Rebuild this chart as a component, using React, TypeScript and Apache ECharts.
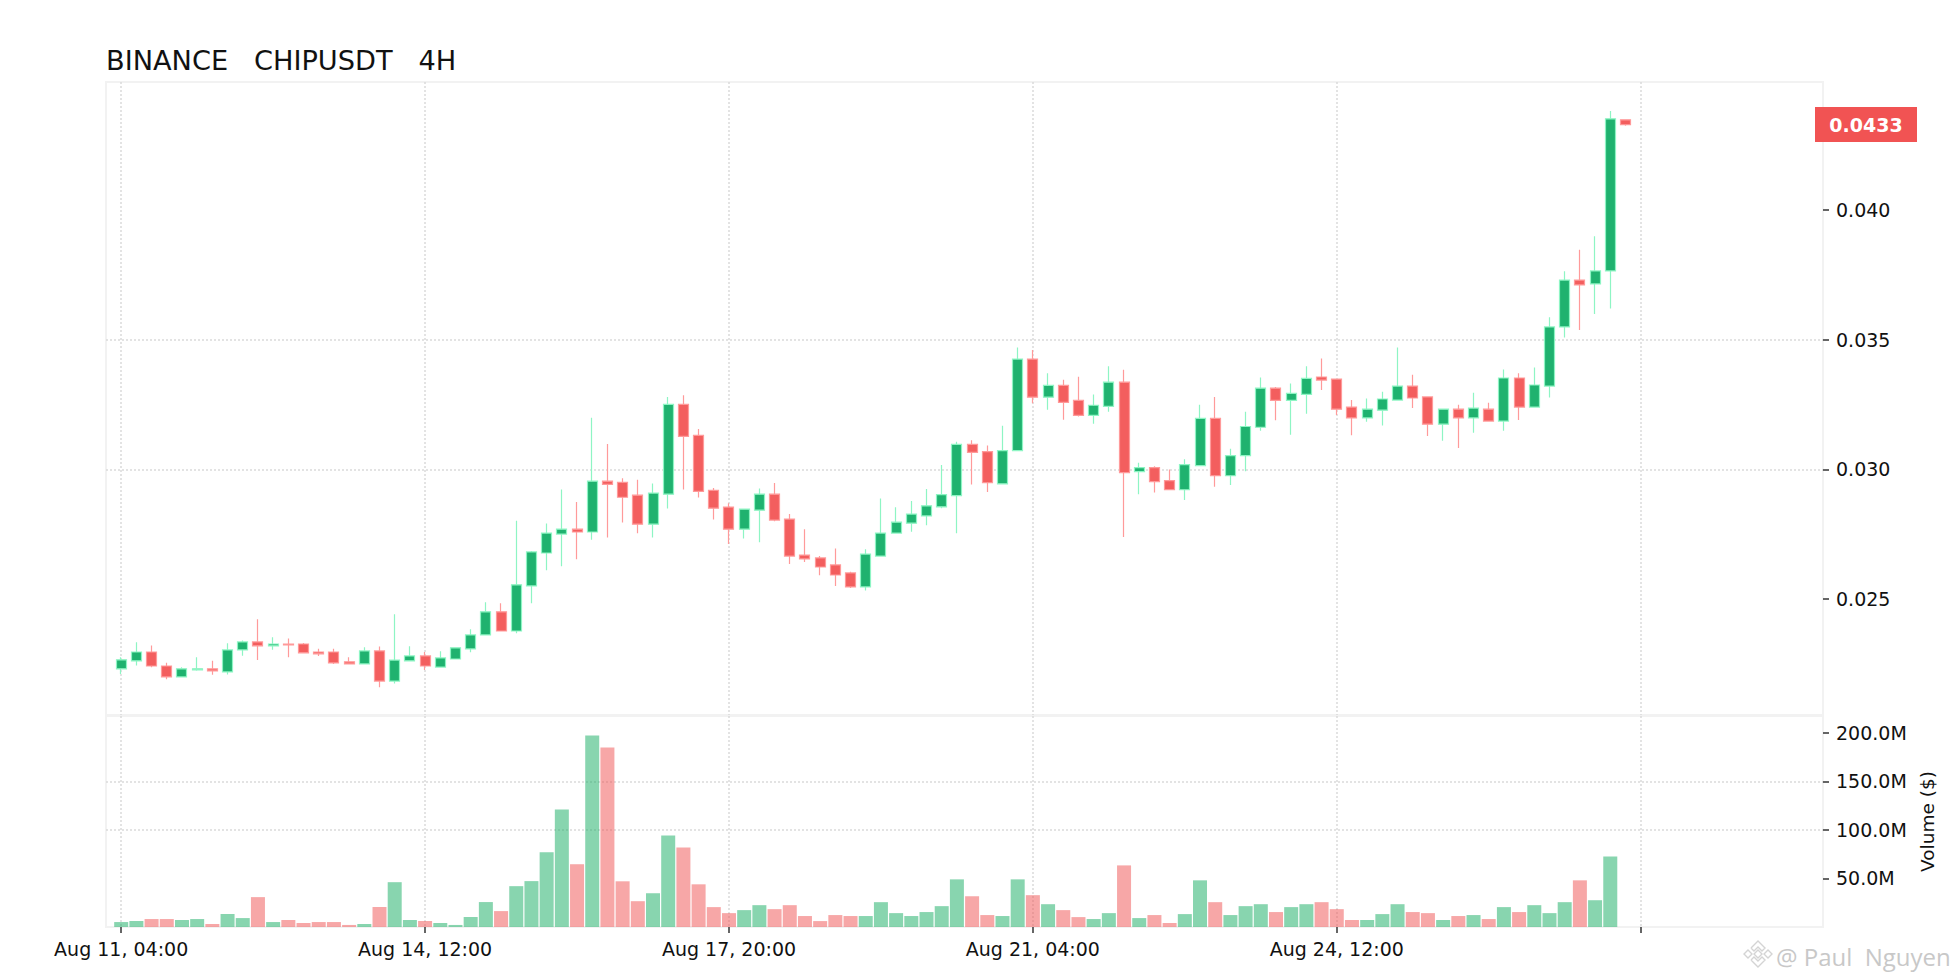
import React, { useEffect, useRef } from "react";
import * as echarts from "echarts";

const titleText = "BINANCE   CHIPUSDT   4H";
const lastPriceLabel = "0.0433";
const volumeAxisName = "Volume ($)";
const watermarkText = "@ Paul  Nguyen";
const priceTicks = [0.025, 0.03, 0.035, 0.04];
const volumeTicks = [50, 100, 150, 200];

const opens = [
  0.0223,0.02261,0.02295,0.02241,0.02199,0.02226,0.0223,0.02218,0.02303,0.02334,
  0.02319,0.02326,0.02326,0.02295,0.02295,0.02257,0.02249,0.02299,0.02183,0.02261,
  0.0228,0.02237,0.02268,0.02307,0.02361,0.0245,0.02376,0.0255,0.02677,0.0275,
  0.02769,0.02758,0.02954,0.0295,0.029,0.02788,0.02904,0.0325,0.03131,0.02919,
  0.02854,0.02769,0.02842,0.02904,0.02808,0.02669,0.02658,0.02631,0.026,0.02546,
  0.02665,0.02754,0.02792,0.0282,0.02855,0.02898,0.03096,0.03068,0.02944,0.03072,
  0.03425,0.03278,0.03324,0.03266,0.03208,0.03243,0.03336,0.02991,0.03006,0.02956,
  0.02921,0.03014,0.03196,0.02975,0.03053,0.03162,0.03313,0.03266,0.03289,0.03356,
  0.03348,0.0324,0.03198,0.03228,0.03267,0.03321,0.03279,0.03174,0.03232,0.03198,
  0.03232,0.03186,0.03352,0.0324,0.03321,0.03549,0.0373,0.03715,0.03765,0.04348,
];
const closes = [
  0.02265,0.02295,0.02241,0.02199,0.0223,0.0223,0.02222,0.02303,0.02334,0.02319,
  0.02326,0.02322,0.02292,0.02288,0.02253,0.02249,0.02299,0.02183,0.02264,0.0228,
  0.02241,0.02272,0.02311,0.02361,0.0245,0.02376,0.02554,0.02681,0.02754,0.02769,
  0.02758,0.02954,0.02942,0.02892,0.02788,0.02908,0.0325,0.03127,0.02915,0.0285,
  0.02769,0.02846,0.02904,0.02804,0.02665,0.02654,0.02623,0.02592,0.02546,0.02673,
  0.02754,0.02796,0.02827,0.02859,0.02902,0.03096,0.03065,0.02948,0.03072,0.03425,
  0.03278,0.03324,0.03258,0.03208,0.03247,0.03336,0.02987,0.03006,0.02952,0.02921,
  0.03018,0.03196,0.02975,0.03053,0.03165,0.03313,0.03266,0.03293,0.03351,0.03344,
  0.03232,0.03198,0.03232,0.03271,0.03321,0.03275,0.03174,0.03232,0.03198,0.03236,
  0.03186,0.03352,0.0324,0.03325,0.03549,0.0373,0.03711,0.03765,0.04352,0.04329,
];
const lows = [
  0.0221,0.02243,0.02236,0.0219,0.02198,0.02223,0.02207,0.02208,0.02281,0.02264,
  0.02304,0.02275,0.02292,0.0228,0.02249,0.02249,0.02249,0.02159,0.02174,0.02261,
  0.02226,0.02237,0.02268,0.02294,0.02361,0.02374,0.02367,0.02483,0.0261,0.02626,
  0.02653,0.02728,0.02737,0.02795,0.02753,0.02737,0.02849,0.02922,0.02891,0.02806,
  0.02712,0.02733,0.02718,0.02799,0.02635,0.02642,0.02591,0.0255,0.02542,0.02532,
  0.02665,0.02754,0.02759,0.02784,0.0285,0.02753,0.02941,0.02912,0.02944,0.03072,
  0.03255,0.0323,0.03191,0.03204,0.03176,0.03222,0.02739,0.02904,0.0291,0.02921,
  0.02881,0.03014,0.02933,0.02939,0.02992,0.03149,0.03189,0.03133,0.03214,0.03306,
  0.03209,0.03131,0.03183,0.03169,0.03267,0.03236,0.03128,0.0311,0.03082,0.03141,
  0.03186,0.03149,0.0319,0.0324,0.03277,0.03508,0.03537,0.03599,0.0362,0.04325,
];
const highs = [
  0.02275,0.02333,0.0232,0.02254,0.02236,0.02275,0.02261,0.02329,0.02339,0.02421,
  0.02352,0.02347,0.0233,0.02308,0.02308,0.02275,0.02313,0.02316,0.02441,0.02317,
  0.02295,0.02298,0.02313,0.02383,0.02487,0.02483,0.02801,0.02685,0.02791,0.02922,
  0.02874,0.03199,0.03097,0.02965,0.0296,0.02945,0.03279,0.03286,0.03155,0.02928,
  0.02869,0.02849,0.02926,0.02947,0.02827,0.02769,0.02665,0.02694,0.02605,0.02691,
  0.02887,0.02853,0.02878,0.02924,0.03016,0.03106,0.03112,0.03092,0.03168,0.0347,
  0.0346,0.0337,0.03345,0.03357,0.03288,0.03397,0.03384,0.03025,0.03012,0.02999,
  0.03039,0.03249,0.03279,0.03079,0.03222,0.03354,0.03317,0.03331,0.03397,0.03427,
  0.03348,0.03267,0.03273,0.03299,0.0347,0.03365,0.03282,0.03232,0.03249,0.03295,
  0.03257,0.03385,0.0337,0.03393,0.03586,0.03764,0.03847,0.03899,0.04382,0.04348,
];
// millions of dollars; the last candle has no visible volume bar
const volumes = [
  5.1,6.2,8.2,8.2,7.2,8.2,3.1,13.4,9.2,30.8,
  5.1,7.2,4.1,5.1,5.1,2.1,3.1,20.6,46.2,7.2,
  6.2,4.1,2.1,10.3,25.7,16.4,42.1,47.3,77.1,121.2,
  64.7,197.3,185,47.1,26.6,34.8,94.2,81.9,44,20.5,
  14.3,17.4,22.5,18.4,22.5,11.3,6.1,12.3,11.3,11.3,
  25.6,14.3,11.3,15.4,21.5,49.1,31.7,12.3,11.3,49.1,
  32.8,23.5,17.4,10.2,8.2,14.3,63.5,9.2,12.3,4.1,
  13.3,48.1,25.6,12.3,21.5,23.5,15.4,20.5,23.5,25.6,
  18.4,7.2,7.2,13.3,23.5,15.4,14.3,7.2,11.3,12.3,
  8.2,20.5,15.4,22.5,14.3,25.6,48.1,27.6,72.7,0,
];

const MONTHS = ["Jan","Feb","Mar","Apr","May","Jun","Jul","Aug","Sep","Oct","Nov","Dec"];
const pad2 = (n: number) => String(n).padStart(2, "0");
// one blank slot on the left of the first candle, then 4H steps
const categories: string[] = Array.from({ length: 114 }, (_, idx) => {
  if (idx === 0 || idx > 101) return "";
  const d = new Date(Date.UTC(2021, 7, 11, 4 + (idx - 1) * 4));
  return `${MONTHS[d.getUTCMonth()]} ${pad2(d.getUTCDate())}, ${pad2(d.getUTCHours())}:00`;
});
const isGridSlot = (idx: number) => idx >= 1 && idx <= 101 && (idx - 1) % 20 === 0;
const isLabelSlot = (idx: number) => isGridSlot(idx) && idx < 101;

const FONT = "DejaVu Sans";
const UP = "#1fb26f";
const UP_WICK = "#8ef5c4";
const DOWN = "#f35e5e";
const DOWN_WICK = "#ff9a9a";
const GRID_LINE = { color: "#dadada", width: 1.5, type: [2, 2] as number[] };
const SHELL = "#f2f2f2";

const candleData = [
  ["-", "-", "-", "-"],
  ...opens.map((o, i) => [o, closes[i], lows[i], highs[i]]),
];
const volumeData = [
  "-",
  ...volumes.map((v, i) =>
    v > 0
      ? { value: v, itemStyle: { color: closes[i] >= opens[i] ? "#11ac60" : "#f05050", opacity: 0.5 } }
      : "-"
  ),
];

const logoStroke = { fill: "#ffffff", stroke: "#d4d4d4", lineWidth: 1.4 };
const logo = [
  { type: "polygon", shape: { points: [[1758, 950], [1762, 954], [1758, 958], [1754, 954]] }, style: logoStroke },
  { type: "polygon", shape: { points: [[1748, 950], [1752, 954], [1748, 958], [1744, 954]] }, style: logoStroke },
  { type: "polygon", shape: { points: [[1768, 950], [1772, 954], [1768, 958], [1764, 954]] }, style: logoStroke },
  { type: "polyline", shape: { points: [[1751, 948], [1758, 941], [1765, 948], [1762, 951], [1758, 947], [1754, 951], [1751, 948]] }, style: logoStroke },
  { type: "polyline", shape: { points: [[1751, 960], [1758, 967], [1765, 960], [1762, 957], [1758, 961], [1754, 957], [1751, 960]] }, style: logoStroke },
];

export default function App() {
  const ref = useRef<HTMLDivElement>(null);
  useEffect(() => {
    const chart = echarts.init(ref.current!, undefined, { renderer: "svg", width: 1960, height: 980 });
    const hidden = { show: false };
    chart.setOption({
      animation: false,
      backgroundColor: "#ffffff",
      textStyle: { fontFamily: FONT },
      title: {
        text: titleText,
        left: 106,
        top: 44,
        padding: 0,
        textStyle: { fontFamily: FONT, fontSize: 27.2, fontWeight: "normal", color: "#111111", lineHeight: 32 },
      },
      grid: [
        { left: 106, width: 1717, top: 82, height: 633, show: true, borderColor: SHELL, borderWidth: 2, backgroundColor: "transparent" },
        { left: 106, width: 1717, top: 716, height: 211, show: true, borderColor: SHELL, borderWidth: 2, backgroundColor: "transparent" },
      ],
      xAxis: [
        {
          type: "category", gridIndex: 0, data: categories, boundaryGap: false,
          axisLine: hidden, axisTick: hidden, axisLabel: hidden,
          splitLine: { show: true, interval: isGridSlot, lineStyle: GRID_LINE },
        },
        {
          type: "category", gridIndex: 1, data: categories, boundaryGap: false,
          axisLine: hidden,
          axisTick: { show: true, interval: isGridSlot, length: 6, lineStyle: { color: "#333333", width: 1.5 } },
          axisLabel: { show: true, interval: isLabelSlot, margin: 12, fontFamily: FONT, fontSize: 19, color: "#111111" },
          splitLine: { show: true, interval: isGridSlot, lineStyle: GRID_LINE },
        },
      ],
      yAxis: [
        {
          type: "value", gridIndex: 0, position: "right", min: 0.02052, max: 0.04494, splitNumber: 5, scale: true,
          axisLine: hidden,
          axisTick: { show: true, length: 6, customValues: priceTicks, lineStyle: { color: "#333333", width: 1.5 } },
          axisLabel: {
            show: true, margin: 13, customValues: priceTicks, fontFamily: FONT, fontSize: 19, color: "#111111",
            formatter: (v: number) => v.toFixed(3),
          },
          splitLine: { show: true, showMinLine: false, showMaxLine: false, lineStyle: GRID_LINE },
        },
        {
          type: "value", gridIndex: 1, position: "right", min: 0, max: 217.5, splitNumber: 4,
          name: volumeAxisName, nameLocation: "middle", nameGap: 85, nameRotate: 90,
          nameTextStyle: { fontFamily: FONT, fontSize: 18.5, color: "#111111" },
          axisLine: hidden,
          axisTick: { show: true, length: 6, customValues: volumeTicks, lineStyle: { color: "#333333", width: 1.5 } },
          axisLabel: {
            show: true, margin: 13, customValues: volumeTicks, fontFamily: FONT, fontSize: 19, color: "#111111",
            formatter: (v: number) => `${v.toFixed(1)}M`,
          },
          splitLine: { show: true, showMinLine: false, showMaxLine: false, lineStyle: GRID_LINE },
        },
      ],
      series: [
        {
          type: "candlestick", xAxisIndex: 0, yAxisIndex: 0, barWidth: 10.5, data: candleData,
          itemStyle: { color: UP, color0: DOWN, borderColor: UP_WICK, borderColor0: DOWN_WICK, borderWidth: 1.2 },
        },
        {
          type: "bar", xAxisIndex: 1, yAxisIndex: 1, barWidth: 14, data: volumeData,
        },
      ],
      graphic: [
        { type: "rect", x: 1815, y: 107, shape: { x: 0, y: 0, width: 102, height: 35 }, style: { fill: "#f15353" } },
        {
          type: "text", x: 1866, y: 124.5,
          style: { text: lastPriceLabel, fill: "#ffffff", font: `bold 19px "${FONT}"`, align: "center", verticalAlign: "middle" },
        },
        ...logo,
        {
          type: "text", x: 1776, y: 956,
          style: { text: watermarkText, fill: "#c8c8c8", font: `24px "Open Sans"`, align: "left", verticalAlign: "middle" },
        },
      ],
    });
    return () => chart.dispose();
  }, []);
  return <div ref={ref} style={{ position: "fixed", left: 0, top: 0, width: 1960, height: 980 }} />;
}
